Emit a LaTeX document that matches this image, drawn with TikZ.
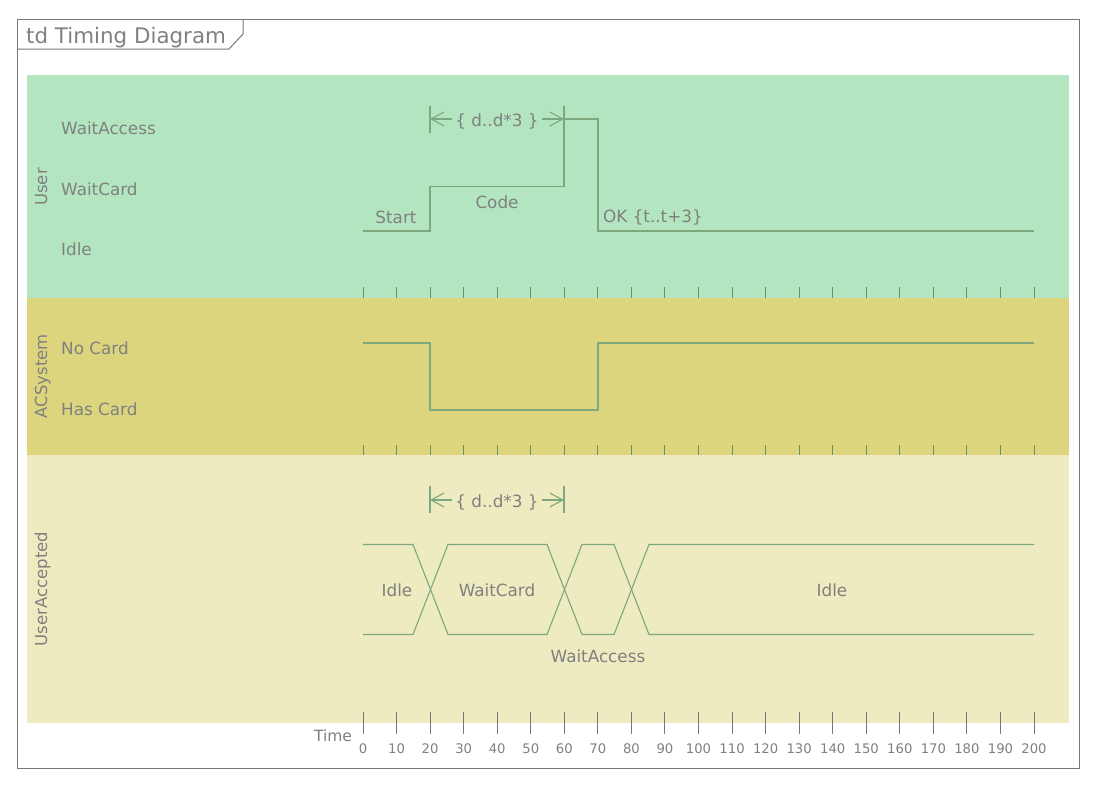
\documentclass[tikz,border=0pt]{standalone}
\usepackage{fontspec}
\setmainfont{DejaVu Sans}
\usetikzlibrary{positioning}
\usetikzlibrary{arrows.meta,calc}
\definecolor{userbg}{RGB}{179,230,192}
\definecolor{acbg}{RGB}{220,213,126}
\definecolor{uabg}{RGB}{238,235,192}
\definecolor{sig}{RGB}{125,168,125}
\definecolor{txt}{RGB}{128,128,128}
\definecolor{frm}{RGB}{118,118,118}
\tikzstyle{frame} = [frm, line width=1pt]
\tikzstyle{state} = [text=txt, font=\fontsize{16.8}{20}\selectfont, inner sep=0pt]
\tikzstyle{lifeline} = [text=txt, font=\fontsize{16.5}{20}\selectfont, inner sep=0pt, rotate=90, anchor=base]
\tikzstyle{timelabel} = [text=txt, font=\fontsize{13.2}{15}\selectfont, inner sep=0pt, anchor=base]
\tikzstyle{wave} = [sig, line width=1.1pt]
\tikzstyle{bandtick} = [sig!85!black, line width=1pt]
\tikzstyle{axistick} = [frm, line width=1pt]
\tikzstyle{dimarrow} = [sig, line width=1.1pt, -{Straight Barb[length=13pt,width=14pt]}]

\begin{document}
\begin{tikzpicture}[x=1pt,y=-1pt]
\useasboundingbox (0,0) rectangle (1097,787);
% frame
\draw[frame] (17,19) rectangle (1079,768);
\draw[frame] (17,49) -- (229,49) -- (243,34) -- (243,19);
\node (title) [anchor=base west, text=txt, font=\fontsize{21.4}{25}\selectfont, inner sep=0pt] at (26,43) {td Timing Diagram};
% lifeline bands
\fill[userbg] (27,75) rectangle (1069,297.7);
\fill[acbg] (27,297.7) rectangle (1069,455);
\fill[uabg] (27,455) rectangle (1069,723);
\node (user) [lifeline] at (47,187) {User};
\node (acsys) [lifeline] at (47,376) {ACSystem};
\node (uacc) [lifeline] at (47,589) {UserAccepted};
% ticks
\foreach \tm in {0,10,...,200} {
  \draw[bandtick] ({363+3.355*\tm},287) -- ({363+3.355*\tm},297.7);
  \draw[bandtick] ({363+3.355*\tm},445) -- ({363+3.355*\tm},455);
  \draw[axistick] ({363+3.355*\tm},712) -- ({363+3.355*\tm},734);
  \node[timelabel] at ({363+3.355*\tm},753) {\tm};
}
\node (time) [timelabel, font=\fontsize{15.5}{18}\selectfont] at (333,741) {Time};
% User
\node (uwa) [state, anchor=base west] at (61,134) {WaitAccess};
\node (uwc) [state, anchor=base west] at (61,195) {WaitCard};
\node (uid) [state, anchor=base west] at (61,255) {Idle};
\draw[wave] (363,231) -- (430,231) -- (430,186.5) -- (564,186.5) -- (564,119) -- (598,119) -- (598,231) -- (1034,231);
\node (start) [state, anchor=base] at (396,223) {Start};
\node (code) [state, anchor=base] at (497,208) {Code};
\node (ok) [state, anchor=base west] at (603,222) {OK \{t..t+3\}};
\draw[wave] (430,106) -- (430,133);
\draw[wave] (564,106) -- (564,119);
\coordinate (dimUl) at (430,119);
\coordinate (dimUr) at (564,119);
\node (dimU) [state, anchor=base, inner sep=3pt] at (497,126) {\{ d..d*3 \}};
\draw[dimarrow] (dimU.west |- dimUl) -- (dimUl);
\draw[dimarrow] (dimU.east |- dimUr) -- (dimUr);
% ACSystem
\node (anc) [state, anchor=base west] at (61,354) {No Card};
\node (ahc) [state, anchor=base west] at (61,415) {Has Card};
\draw[wave] (363,343) -- (430,343) -- (430,410) -- (598,410) -- (598,343) -- (1034,343);
% UserAccepted
\draw[wave] (363,544.5) -- (413,544.5) -- (448,634.5) -- (547,634.5) -- (582,544.5) -- (614,544.5) -- (649,634.5) -- (1034,634.5);
\draw[wave] (363,634.5) -- (413,634.5) -- (448,544.5) -- (547,544.5) -- (582,634.5) -- (614,634.5) -- (649,544.5) -- (1034,544.5);
\node (aidle) [state, anchor=base] at (397,596) {Idle};
\node (awc) [state, anchor=base] at (497,596) {WaitCard};
\node (awa) [state, anchor=base] at (598,662) {WaitAccess};
\node (aidle2) [state, anchor=base] at (832,596) {Idle};
\draw[wave] (430,486) -- (430,513);
\draw[wave] (564,486) -- (564,513);
\coordinate (dimAl) at (430,500);
\coordinate (dimAr) at (564,500);
\node (dimA) [state, anchor=base, inner sep=3pt] at (497,507) {\{ d..d*3 \}};
\draw[dimarrow] (dimA.west |- dimAl) -- (dimAl);
\draw[dimarrow] (dimA.east |- dimAr) -- (dimAr);
\end{tikzpicture}
\end{document}
